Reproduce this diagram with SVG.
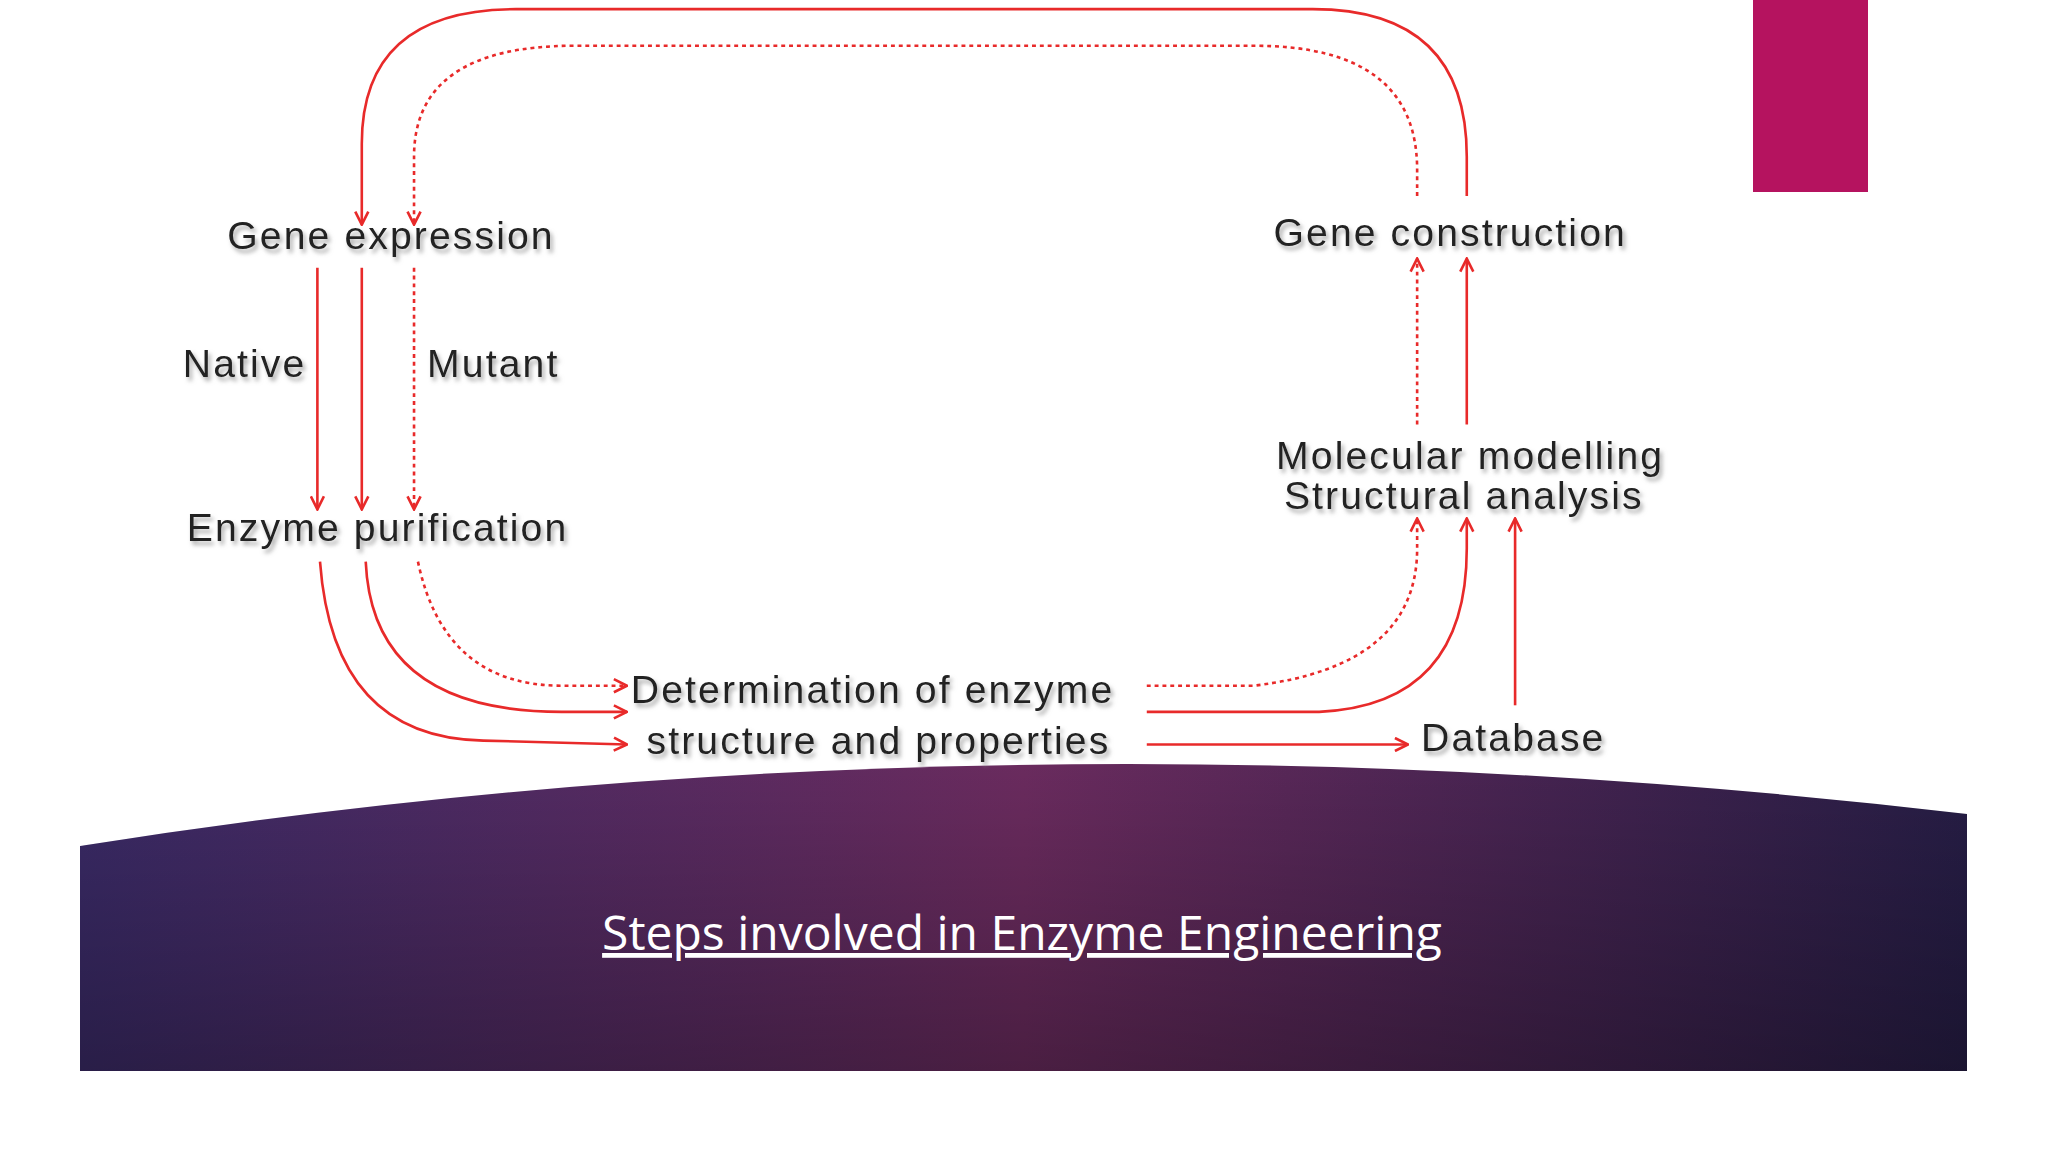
<svg xmlns="http://www.w3.org/2000/svg" width="2048" height="1152" viewBox="0 0 2048 1152">
<defs>
<marker id="ar" viewBox="0 0 12 12" refX="11" refY="6" markerWidth="12" markerHeight="12" markerUnits="userSpaceOnUse" orient="auto">
<polyline points="1,1 11,6 1,11" fill="none" stroke="#e82a2a" stroke-width="2"/>
</marker>
<linearGradient id="bg" x1="0" y1="0" x2="1" y2="0">
<stop offset="0" stop-color="#3a2a66"/>
<stop offset="0.5" stop-color="#6a2b5e"/>
<stop offset="1" stop-color="#261d45"/>
</linearGradient>
<linearGradient id="bgv" x1="0" y1="0" x2="0" y2="1">
<stop offset="0" stop-color="#000" stop-opacity="0"/>
<stop offset="1" stop-color="#000" stop-opacity="0.3"/>
</linearGradient>
<filter id="sh" x="-10%" y="-30%" width="120%" height="160%">
<feDropShadow dx="2" dy="3" stdDeviation="1.5" flood-color="#888" flood-opacity="0.7"/>
</filter>
<style>
.l{fill:none;stroke:#e82a2a;stroke-width:2}
.d{stroke-dasharray:3,3}
.t{font-family:"Liberation Sans",Arial,sans-serif;font-size:30px;letter-spacing:1.6px;fill:#222;filter:url(#sh)}
</style>
</defs>
<rect width="2048" height="1152" fill="#fff"/>
<rect id="accent" x="1753" y="0" width="115" height="192" fill="#b5135f"/>
<g id="banner">
<path d="M80 846 Q1000 700 1967 814 L1967 1071 L80 1071 Z" fill="url(#bg)"/>
<path d="M80 846 Q1000 700 1967 814 L1967 1071 L80 1071 Z" fill="url(#bgv)"/>
<path d="M80 846 Q300 790 620 768 Q300 795 80 830 Z" fill="#fff" opacity="0.25"/>
<text x="1022" y="950" text-anchor="middle" font-family="'Open Sans',sans-serif" font-size="48" fill="#fff" text-decoration="underline">Steps involved in Enzyme Engineering</text>
</g>
<g transform="scale(1.30612)">
<g id="connectors">
<path class="l" d="M1123 150 L1123 120 Q1123 7 1005 7 L395 7 Q277 7 277 110 L277 172" marker-end="url(#ar)"/>
<path class="l d" d="M1085 150 L1085 130 Q1085 35 960 35 L440 35 Q317 35 317 120 L317 172" marker-end="url(#ar)"/>
<path class="l" d="M243 205 L243 390" marker-end="url(#ar)"/>
<path class="l" d="M277 205 L277 390" marker-end="url(#ar)"/>
<path class="l d" d="M317 205 L317 390" marker-end="url(#ar)"/>
<path class="l" d="M245 430 Q255 565 370 567 L480 570" marker-end="url(#ar)"/>
<path class="l" d="M280 430 Q285 545 430 545 L480 545" marker-end="url(#ar)"/>
<path class="l d" d="M320 430 Q340 525 430 525 L480 525" marker-end="url(#ar)"/>
<path class="l" d="M878 545 L1010 545 Q1123 540 1123 420 L1123 397" marker-end="url(#ar)"/>
<path class="l d" d="M878 525 L960 525 Q1085 510 1085 420 L1085 397" marker-end="url(#ar)"/>
<path class="l" d="M878 570 L1078 570" marker-end="url(#ar)"/>
<path class="l" d="M1160 540 L1160 397" marker-end="url(#ar)"/>
<path class="l d" d="M1085 325 L1085 198" marker-end="url(#ar)"/>
<path class="l" d="M1123 325 L1123 198" marker-end="url(#ar)"/>
</g>
<g id="n-gene-expression"><text class="t" x="174" y="191">Gene expression</text></g>
<g id="n-native"><text class="t" x="140" y="289">Native</text></g>
<g id="n-mutant"><text class="t" x="327" y="289">Mutant</text></g>
<g id="n-enzyme-purification"><text class="t" x="143" y="414">Enzyme purification</text></g>
<g id="n-determination"><text class="t" x="483" y="538">Determination of enzyme</text><text class="t" x="495" y="577">structure and properties</text></g>
<g id="n-gene-construction"><text class="t" x="975" y="188">Gene construction</text></g>
<g id="n-modelling"><text class="t" x="977" y="359">Molecular modelling</text><text class="t" x="983" y="390">Structural analysis</text></g>
<g id="n-database"><text class="t" x="1088" y="575">Database</text></g>
</g>
</svg>
